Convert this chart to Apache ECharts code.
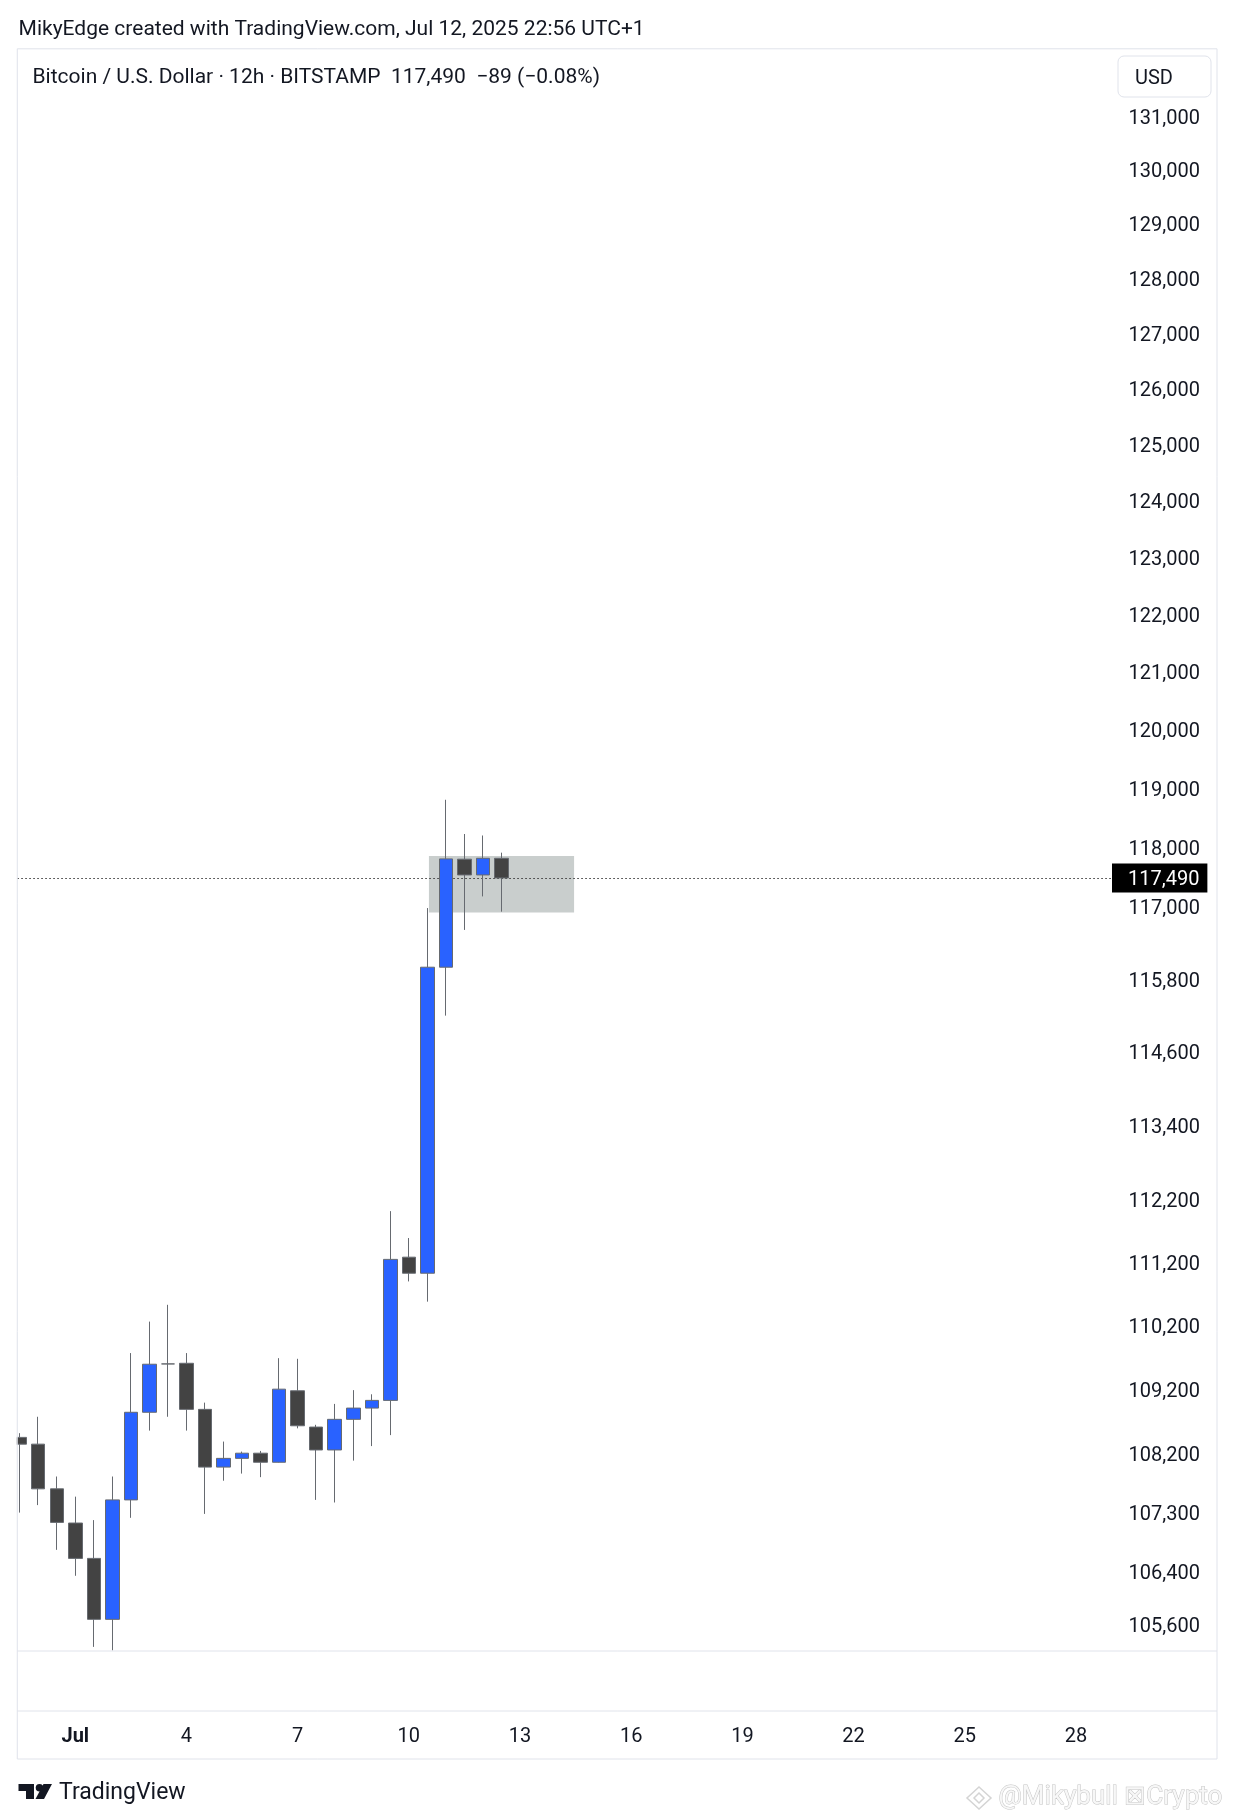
<!DOCTYPE html>
<html>
<head>
<meta charset="utf-8">
<script src="https://cdn.jsdelivr.net/npm/echarts@6/dist/echarts.min.js"></script>
<style>
html,body{margin:0;padding:0;background:#fff;}
#chart{width:1236px;height:1820px;}
</style>
</head>
<body>
<div id="chart"></div>
<script>
// ---- data (12h candles, BTC/USD Bitstamp) ----
const candleTimes = [
  '2025-06-29 12:00','2025-06-30 00:00','2025-06-30 12:00','2025-07-01 00:00','2025-07-01 12:00',
  '2025-07-02 00:00','2025-07-02 12:00','2025-07-03 00:00','2025-07-03 12:00','2025-07-04 00:00',
  '2025-07-04 12:00','2025-07-05 00:00','2025-07-05 12:00','2025-07-06 00:00','2025-07-06 12:00',
  '2025-07-07 00:00','2025-07-07 12:00','2025-07-08 00:00','2025-07-08 12:00','2025-07-09 00:00',
  '2025-07-09 12:00','2025-07-10 00:00','2025-07-10 12:00','2025-07-11 00:00','2025-07-11 12:00',
  '2025-07-12 00:00','2025-07-12 12:00'
];
const openValues  = [108460,108355,107665,107140,106600,105675,107495,108850,109605,109615,108895,108000,108135,108215,108075,109185,108620,108265,108740,108915,109035,111290,111035,116000,117805,117540,117820];
const highValues  = [108525,108780,107855,107545,107185,107855,109775,110270,110535,109775,109000,108395,108240,108250,109695,109685,108655,108980,109195,109130,112025,111595,116985,118810,118230,118205,117915];
const lowValues   = [107300,107415,106730,106335,105260,105210,107220,108565,108780,108565,107280,107790,107900,107845,108070,108600,107495,107455,108100,108325,108495,110905,110585,115200,116620,117180,116925];
const closeValues = [108355,107665,107150,106600,105675,107495,108850,109600,109605,108895,108000,108135,108215,108075,109210,108640,108265,108740,108915,109035,111255,111035,116000,117810,117540,117820,117490];

const priceTicks = [131000,130000,129000,128000,127000,126000,125000,124000,123000,122000,121000,120000,119000,118000,117000,115800,114600,113400,112200,111200,110200,109200,108200,107300,106400,105600];
const dateTicks = ['2025-07-01','2025-07-04','2025-07-07','2025-07-10','2025-07-13','2025-07-16','2025-07-19','2025-07-22','2025-07-25','2025-07-28'];

const lastPrice = 117490;
const boxStart = '2025-07-10 13:00', boxEnd = '2025-07-14 11:00';
const boxTop = 117860, boxBottom = 116910;

const xRange = ['2025-06-29 10:26', '2025-07-28 23:21'];
const yRange = [105198, 132274];

const titleText = 'MikyEdge created with TradingView.com, Jul 12, 2025 22:56 UTC+1';
const legendText = 'Bitcoin / U.S. Dollar · 12h · BITSTAMP  117,490  −89 (−0.08%)';

// ---- helpers ----
function parseUTC(s){
  const m = s.match(/(\d+)-(\d+)-(\d+)(?:\s+(\d+):(\d+))?/);
  return Date.UTC(+m[1], +m[2]-1, +m[3], m[4]?+m[4]:0, m[5]?+m[5]:0);
}
const candleData = candleTimes.map((t,i)=>[parseUTC(t), openValues[i], closeValues[i], lowValues[i], highValues[i]]);

const FONT = 'Roboto, "Noto Sans", sans-serif';
const TXT = '#131722';
const FRAME = '#e0e3eb';

const chart = echarts.init(document.getElementById('chart'), null, {renderer:'canvas'});

const option = {
  backgroundColor: '#ffffff',
  animation: false,
  grid: { left: 17.3, right: 124, top: 48.8, bottom: 1820-1651, containLabel: false },
  xAxis: {
    type: 'value',
    min: parseUTC(xRange[0]),
    max: parseUTC(xRange[1]),
    axisLine: { show: false },
    axisTick: { show: false },
    splitLine: { show: false },
    axisLabel: {
      customValues: dateTicks.map(parseUTC),
      margin: 75.5,
      fontFamily: FONT,
      fontSize: 20,
      color: TXT,
      formatter: function(v){
        const d = new Date(v);
        return d.getUTCDate() === 1 ? '{b|Jul}' : String(d.getUTCDate());
      },
      rich: { b: { fontWeight: 'bold', fontFamily: FONT, fontSize: 20, color: TXT } }
    }
  },
  yAxis: {
    type: 'log',
    logBase: 10,
    position: 'right',
    min: yRange[0],
    max: yRange[1],
    axisLine: { show: false },
    axisTick: { show: false },
    splitLine: { show: false },
    axisLabel: {
      customValues: priceTicks,
      align: 'right',
      margin: 88,
      fontFamily: FONT,
      fontSize: 20,
      color: TXT,
      formatter: v => '{v|' + Math.round(v).toLocaleString('en-US') + '}',
      rich: { v: { fontFamily: FONT, fontSize: 20, color: TXT, padding: [4.5, 0, 0, 0] } }
    }
  },
  series: [
    {
      type: 'candlestick',
      z: 3,
      clip: true,
      barWidth: 14,
      data: candleData,
      encode: { x: 0, y: [1,2,3,4] },
      itemStyle: {
        color: '#2962ff',
        color0: '#434343',
        borderColor: '#666a70',
        borderColor0: '#666a70',
        borderWidth: 1
      },
      markArea: {
        silent: true,
        z: 1,
        itemStyle: { color: '#c9cecd', opacity: 1 },
        data: [[
          { xAxis: parseUTC(boxStart), yAxis: boxTop },
          { xAxis: parseUTC(boxEnd), yAxis: boxBottom }
        ]]
      },
      markLine: {
        silent: true,
        z: 2,
        symbol: ['none','none'],
        lineStyle: { type: [1.5, 2.5], color: '#333333', width: 1 },
        label: {
          show: true,
          position: 'end',
          distance: 0,
          formatter: () => '{p|' + lastPrice.toLocaleString('en-US') + '}',
          backgroundColor: '#000000',
          color: '#ffffff',
          fontFamily: FONT,
          fontSize: 20,
          padding: [3, 8, 2, 16],
          rich: { p: { fontFamily: FONT, fontSize: 20, color: '#ffffff', padding: [4, 0, 0, 0] } }
        },
        data: [{ yAxis: lastPrice }]
      }
    }
  ],
  graphic: [
    { type: 'rect', z: 100, shape: { x: 0, y: 48, width: 16.8, height: 1620 }, style: { fill: '#ffffff' } },
    { type: 'text', left: 18.6, top: 19, style: { text: titleText, font: '21px ' + FONT, fill: TXT } },
    { type: 'rect', z: 101, shape: { x: 17.3, y: 48.8, width: 1217-17.3, height: 1759-48.8 }, style: { fill: 'none', stroke: FRAME, lineWidth: 1 } },
    { type: 'line', shape: { x1: 17.3, y1: 1651, x2: 1217, y2: 1651 }, style: { stroke: FRAME, lineWidth: 1 } },
    { type: 'line', shape: { x1: 17.3, y1: 1711, x2: 1217, y2: 1711 }, style: { stroke: FRAME, lineWidth: 1 } },
    { type: 'text', left: 32.5, top: 67, style: { text: legendText, font: '21px ' + FONT, fill: TXT } },
    { type: 'rect', shape: { x: 1118, y: 56, width: 93, height: 41, r: 6 }, style: { fill: '#fff', stroke: FRAME, lineWidth: 1 } },
    { type: 'text', x: 1154, y: 79, style: { text: 'USD', font: '20px ' + FONT, fill: TXT, align: 'center', verticalAlign: 'middle' } },
    { type: 'polygon', shape: { points: [[18.5,1784],[34,1784],[34,1799],[26,1799],[26,1791],[18.5,1791]] }, style: { fill: '#131722' } },
    { type: 'circle', shape: { cx: 39.5, cy: 1787.8, r: 3.8 }, style: { fill: '#131722' } },
    { type: 'polygon', shape: { points: [[43.5,1784],[52,1784],[44,1799],[35.5,1799]] }, style: { fill: '#131722' } },
    { type: 'text', left: 59, top: 1782, style: { text: 'TradingView', font: '23px ' + FONT, fill: TXT } },
    { type: 'polygon', shape: { points: [[979,1787],[991,1798],[979,1809],[967,1798]] }, style: { fill: 'none', stroke: '#d4d4d4', lineWidth: 1.5 } },
    { type: 'polygon', shape: { points: [[979,1793],[984,1798],[979,1803],[974,1798]] }, style: { fill: 'none', stroke: '#d4d4d4', lineWidth: 1.5 } },
    { type: 'text', left: 998, top: 1784, style: { text: '@Mikybull ⊠Crypto', font: '26px ' + FONT, fill: '#f7f7f7', stroke: '#c4c4c4', lineWidth: 1 } }
  ]
};
chart.setOption(option);
</script>
</body>
</html>
